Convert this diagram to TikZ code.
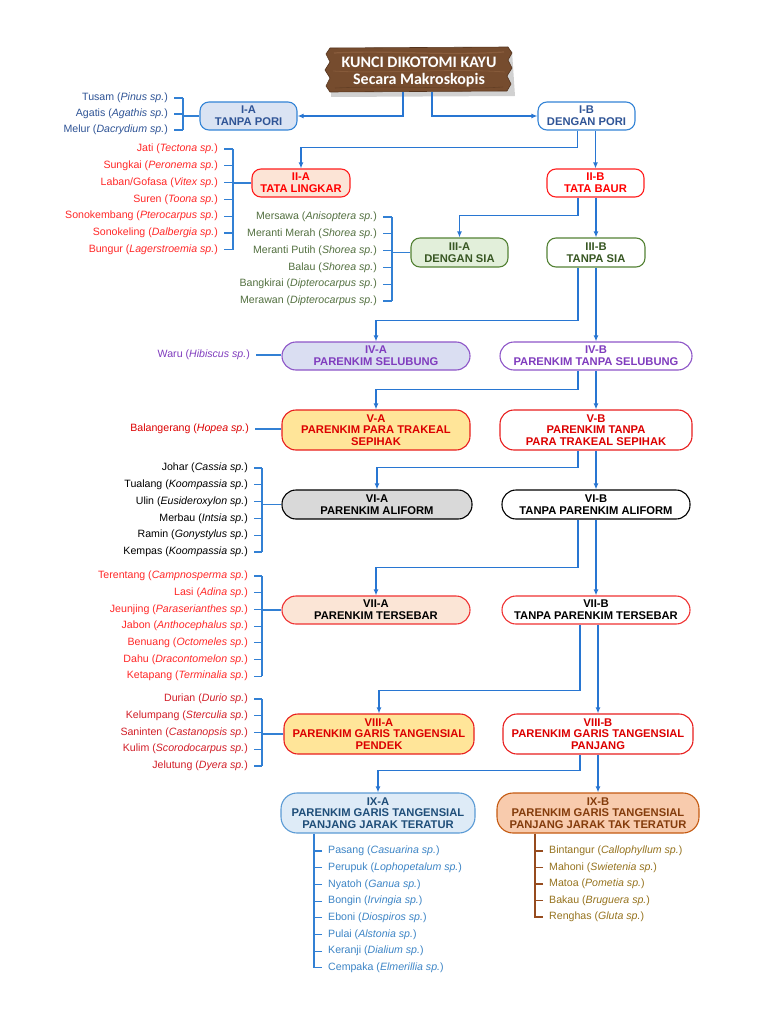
\documentclass[tikz,border=0pt]{standalone}
\usepackage{fontspec}
\setmainfont{Liberation Sans}
\newfontfamily\signfont{Carlito}
\usetikzlibrary{arrows.meta}

\definecolor{linkblue}{RGB}{40,118,210}
\definecolor{brkblue}{RGB}{50,128,212}
\definecolor{wood}{RGB}{118,76,46}
\definecolor{woodlight}{RGB}{150,104,70}
\definecolor{wooddark}{RGB}{84,52,30}
\definecolor{bdI}{RGB}{52,132,214}    \definecolor{txI}{RGB}{47,84,150}   \definecolor{flI}{RGB}{218,227,243}
\definecolor{bdII}{RGB}{255,30,30}    \definecolor{txII}{RGB}{255,0,0}    \definecolor{flII}{RGB}{252,228,214}
\definecolor{bdIII}{RGB}{84,130,53}   \definecolor{txIII}{RGB}{56,87,35}  \definecolor{flIII}{RGB}{226,239,218}
\definecolor{bdIV}{RGB}{142,86,200}   \definecolor{txIV}{RGB}{128,60,190} \definecolor{flIV}{RGB}{218,222,242}
\definecolor{bdV}{RGB}{232,30,30}     \definecolor{txV}{RGB}{220,0,0}     \definecolor{flV}{RGB}{255,229,153}
\definecolor{flVI}{RGB}{217,217,217}
\definecolor{bdVII}{RGB}{240,50,50}   \definecolor{flVII}{RGB}{251,229,214}
\definecolor{bdIXa}{RGB}{91,155,213}  \definecolor{txIXa}{RGB}{31,78,121} \definecolor{flIXa}{RGB}{222,235,247}
\definecolor{bdIXb}{RGB}{197,90,17}   \definecolor{txIXb}{RGB}{132,60,12} \definecolor{flIXb}{RGB}{248,203,173}
\definecolor{spII}{RGB}{255,40,40}
\definecolor{spIII}{RGB}{83,112,64}
\definecolor{spVIII}{RGB}{210,30,40}
\definecolor{spIXa}{RGB}{61,133,198}
\definecolor{spIXb}{RGB}{150,115,30}
\definecolor{lnIXb}{RGB}{150,75,30}

\begin{document}
\begin{tikzpicture}[x=1pt,y=-1pt,
    link/.style={draw=linkblue, line width=1.2pt, -{Latex[length=6pt,width=5pt]}},
    brk/.style={draw=brkblue, line width=1.1pt},
    box/.style={draw, line width=1.1pt, align=center, inner sep=0pt,
      font=\bfseries\fontsize{11.2}{11.8}\selectfont},
    sp/.style={font=\fontsize{10.6}{12}\selectfont, inner sep=0pt}]
    \useasboundingbox[fill=white] (0,0) rectangle (768,1024);

    % wooden sign
    \fill[black!18] (331,52) -- (512,51) -- (515,96) -- (331,97) -- cycle;
    \filldraw[fill=wood, draw=wooddark, line width=0.6pt] (330,48) -- (508,47) -- (512,53) -- (508,60) -- (512,68)
        -- (507,76) -- (511,84) -- (507,91) -- (330,92) -- (326,86) -- (330,78) -- (325,70) -- (330,62) -- (326,54) -- cycle;
    \draw[woodlight, line width=1.2pt, opacity=.6] (334,53) .. controls (390,50) and (440,56) .. (504,52);
    \draw[woodlight, line width=0.8pt, opacity=.5] (333,71) .. controls (380,74) and (450,68) .. (505,72);
    \draw[wooddark, line width=0.6pt, opacity=.5] (335,88) .. controls (400,85) and (460,90) .. (503,87);
    \node[inner sep=0pt, minimum width=186pt, minimum height=39pt, align=center, text=white,
        font=\signfont\bfseries\fontsize{16}{17}\selectfont] (title) at (419,72.5)
        {KUNCI DIKOTOMI KAYU\\Secara Makroskopis};

    % boxes
    \node[box, draw=bdI, fill=flI, text=txI, minimum width=97pt, minimum height=28pt, rounded corners=9pt] (ia) at (248.5,116) {I-A\\TANPA PORI};
    \node[box, draw=bdI, fill=white, text=txI, minimum width=97pt, minimum height=28pt, rounded corners=9pt] (ib) at (586.5,116) {I-B\\DENGAN PORI};
    \node[box, draw=bdII, fill=flII, text=txII, minimum width=98pt, minimum height=28pt, rounded corners=9pt] (iia) at (301,183) {II-A\\TATA LINGKAR};
    \node[box, draw=bdII, fill=white, text=txII, minimum width=97pt, minimum height=28pt, rounded corners=9pt] (iib) at (595.5,183) {II-B\\TATA BAUR};
    \node[box, draw=bdIII, fill=flIII, text=txIII, minimum width=97pt, minimum height=29pt, rounded corners=9pt] (iiia) at (459.5,252.5) {III-A\\DENGAN SIA};
    \node[box, draw=bdIII, fill=white, text=txIII, minimum width=98pt, minimum height=29pt, rounded corners=9pt] (iiib) at (596,252.5) {III-B\\TANPA SIA};
    \node[box, draw=bdIV, fill=flIV, text=txIV, minimum width=188pt, minimum height=28pt, rounded corners=14pt] (iva) at (376,356) {IV-A\\PARENKIM SELUBUNG};
    \node[box, draw=bdIV, fill=white, text=txIV, minimum width=192pt, minimum height=28pt, rounded corners=14pt] (ivb) at (596,356) {IV-B\\PARENKIM TANPA SELUBUNG};
    \node[box, draw=bdV, fill=flV, text=txV, minimum width=188pt, minimum height=40pt, rounded corners=14pt] (va) at (376,430) {V-A\\PARENKIM PARA TRAKEAL\\SEPIHAK};
    \node[box, draw=bdV, fill=white, text=txV, minimum width=192pt, minimum height=40pt, rounded corners=14pt] (vb) at (596,430) {V-B\\PARENKIM TANPA\\PARA TRAKEAL SEPIHAK};
    \node[box, draw=black, fill=flVI, text=black, minimum width=190pt, minimum height=29pt, rounded corners=14pt] (via) at (377,504.5) {VI-A\\PARENKIM ALIFORM};
    \node[box, draw=black, fill=white, text=black, minimum width=188pt, minimum height=29pt, rounded corners=14pt] (vib) at (596,504.5) {VI-B\\TANPA PARENKIM ALIFORM};
    \node[box, draw=bdVII, fill=flVII, text=black, minimum width=188pt, minimum height=28pt, rounded corners=14pt] (viia) at (376,610) {VII-A\\PARENKIM TERSEBAR};
    \node[box, draw=bdVII, fill=white, text=black, minimum width=188pt, minimum height=28pt, rounded corners=14pt] (viib) at (596,610) {VII-B\\TANPA PARENKIM TERSEBAR};
    \node[box, draw=bdV, fill=flV, text=txV, minimum width=190pt, minimum height=40pt, rounded corners=14pt] (viiia) at (379,734) {VIII-A\\PARENKIM GARIS TANGENSIAL\\PENDEK};
    \node[box, draw=bdV, fill=white, text=txV, minimum width=190pt, minimum height=40pt, rounded corners=14pt] (viiib) at (598,734) {VIII-B\\PARENKIM GARIS TANGENSIAL\\PANJANG};
    \node[box, draw=bdIXa, fill=flIXa, text=txIXa, minimum width=194pt, minimum height=40pt, rounded corners=16pt] (ixa) at (378,813) {IX-A\\PARENKIM GARIS TANGENSIAL\\PANJANG JARAK TERATUR};
    \node[box, draw=bdIXb, fill=flIXb, text=txIXb, minimum width=202pt, minimum height=40pt, rounded corners=16pt] (ixb) at (598,813) {IX-B\\PARENKIM GARIS TANGENSIAL\\PANJANG JARAK TAK TERATUR};

    % arrows
    \draw[link] (title.south) ++(-16,0) |- (ia.east);
    \draw[link] (title.south) ++(13,0) |- (ib.west);
    \draw[link] (iib.north |- ib.south) ++(-18,0) -- ++(0,17) -| (iia.north);
    \draw[link] (iib.north |- ib.south) -- (iib.north);
    \draw[link] (iiib.north |- iib.south) ++(-18,0) -- ++(0,18) -| (iiia.north);
    \draw[link] (iiib.north |- iib.south) -- (iiib.north);
    \draw[link] (ivb.north |- iiib.south) ++(-18,0) -- ++(0,53) -| (iva.north);
    \draw[link] (ivb.north |- iiib.south) -- (ivb.north);
    \draw[link] (vb.north |- ivb.south) ++(-18,0) -- ++(0,19) -| (va.north);
    \draw[link] (vb.north |- ivb.south) -- (vb.north);
    \draw[link] (vib.north |- vb.south) ++(-18,0) -- ++(0,17) -| (via.north);
    \draw[link] (vib.north |- vb.south) -- (vib.north);
    \draw[link] (viib.north |- vib.south) ++(-18,0) -- ++(0,48) -| (viia.north);
    \draw[link] (viib.north |- vib.south) -- (viib.north);
    \draw[link] (viiib.north |- viib.south) ++(-18,0) -- ++(0,66) -| (viiia.north);
    \draw[link] (viiib.north |- viib.south) -- (viiib.north);
    \draw[link] (ixb.north |- viiib.south) ++(-18,0) -- ++(0,16) -| (ixa.north);
    \draw[link] (ixb.north |- viiib.south) -- (ixb.north);

    % I-A
    \foreach \nm/\la [count=\i] in {Tusam/Pinus, Agatis/Agathis, Melur/Dacrydium}
        \node[sp, text=txI, anchor=east] (ta\i) at (168,{98+16*(\i-1)}) {\nm\ (\textit{\la\ sp.})};
    \coordinate (bta) at ([xshift=15pt]ta1.east);
    \draw[brk] (bta) -- (bta |- ta3.east);
    \foreach \i in {1,...,3} \draw[brk] ([xshift=6pt]ta\i.east) -- (bta |- ta\i.east);
    \draw[brk] (ia.west) -- (ia.west -| bta);

    % II-A
    \foreach \nm/\la [count=\i] in {Jati/Tectona, Sungkai/Peronema, {Laban/Gofasa}/Vitex, Suren/Toona,
        Sonokembang/Pterocarpus, Sonokeling/Dalbergia, Bungur/Lagerstroemia}
        \node[sp, text=spII, anchor=east] (tb\i) at (218,{149+16.8*(\i-1)}) {\nm\ (\textit{\la\ sp.})};
    \coordinate (btb) at ([xshift=15pt]tb1.east);
    \draw[brk] (btb) -- (btb |- tb7.east);
    \foreach \i in {1,...,7} \draw[brk] ([xshift=6pt]tb\i.east) -- (btb |- tb\i.east);
    \draw[brk] (iia.west) -- (iia.west -| btb);

    % III-A
    \foreach \nm/\la [count=\i] in {Mersawa/Anisoptera, Meranti Merah/Shorea, Meranti Putih/Shorea,
        Balau/Shorea, Bangkirai/Dipterocarpus, Merawan/Dipterocarpus}
        \node[sp, text=spIII, anchor=east] (tc\i) at (377,{217+16.8*(\i-1)}) {\nm\ (\textit{\la\ sp.})};
    \coordinate (btc) at ([xshift=15pt]tc1.east);
    \draw[brk] (btc) -- (btc |- tc6.east);
    \foreach \i in {1,...,6} \draw[brk] ([xshift=6pt]tc\i.east) -- (btc |- tc\i.east);
    \draw[brk] (iiia.west) -- (iiia.west -| btc);

    % IV-A, V-A
    \node[sp, text=txIV, anchor=east] (td1) at (250,355) {Waru (\textit{Hibiscus sp.})};
    \draw[brk] ([xshift=6pt]td1.east) -- (iva.west |- td1.east);
    \node[sp, text=txV, anchor=east] (te1) at (249,429) {Balangerang (\textit{Hopea sp.})};
    \draw[brk] ([xshift=6pt]te1.east) -- (va.west |- te1.east);

    % VI-A
    \foreach \nm/\la [count=\i] in {Johar/Cassia, Tualang/Koompassia, Ulin/Eusideroxylon,
        Merbau/Intsia, Ramin/Gonystylus, Kempas/Koompassia}
        \node[sp, text=black, anchor=east] (tf\i) at (248,{468+16.8*(\i-1)}) {\nm\ (\textit{\la\ sp.})};
    \coordinate (btf) at ([xshift=14pt]tf1.east);
    \draw[brk] (btf) -- (btf |- tf6.east);
    \foreach \i in {1,...,6} \draw[brk] ([xshift=6pt]tf\i.east) -- (btf |- tf\i.east);
    \draw[brk] (via.west) -- (via.west -| btf);

    % VII-A
    \foreach \nm/\la [count=\i] in {Terentang/Campnosperma, Lasi/Adina, Jeunjing/Paraserianthes,
        Jabon/Anthocephalus, Benuang/Octomeles, Dahu/Dracontomelon, Ketapang/Terminalia}
        \node[sp, text=spII, anchor=east] (tg\i) at (248,{576+16.7*(\i-1)}) {\nm\ (\textit{\la\ sp.})};
    \coordinate (btg) at ([xshift=14pt]tg1.east);
    \draw[brk] (btg) -- (btg |- tg7.east);
    \foreach \i in {1,...,7} \draw[brk] ([xshift=6pt]tg\i.east) -- (btg |- tg\i.east);
    \draw[brk] (viia.west) -- (viia.west -| btg);

    % VIII-A
    \foreach \nm/\la [count=\i] in {Durian/Durio, Kelumpang/Sterculia, Saninten/Castanopsis,
        Kulim/Scorodocarpus, Jelutung/Dyera}
        \node[sp, text=spVIII, anchor=east] (th\i) at (248,{699+16.75*(\i-1)}) {\nm\ (\textit{\la\ sp.})};
    \coordinate (bth) at ([xshift=14pt]th1.east);
    \draw[brk] (bth) -- (bth |- th5.east);
    \foreach \i in {1,...,5} \draw[brk] ([xshift=6pt]th\i.east) -- (bth |- th\i.east);
    \draw[brk] (viiia.west) -- (viiia.west -| bth);

    % IX-A
    \foreach \nm/\la [count=\i] in {Pasang/Casuarina, Perupuk/Lophopetalum, Nyatoh/Ganua, Bongin/Irvingia,
        Eboni/Diospiros, Pulai/Alstonia, Keranji/Dialium, Cempaka/Elmerillia}
        \node[sp, text=spIXa, anchor=west] (tk\i) at (328,{851+16.7*(\i-1)}) {\nm\ (\textit{\la\ sp.})};
    \draw[brk] (ixa.south) ++(-64,0) |- ([xshift=-6pt]tk8.west);
    \foreach \i in {1,...,7} \draw[brk] ([xshift=-6pt]tk\i.west) -- ++(-8,0);

    % IX-B
    \foreach \nm/\la [count=\i] in {Bintangur/Callophyllum, Mahoni/Swietenia, Matoa/Pometia,
        Bakau/Bruguera, Renghas/Gluta}
        \node[sp, text=spIXb, anchor=west] (tm\i) at (549,{851+16.5*(\i-1)}) {\nm\ (\textit{\la\ sp.})};
    \draw[draw=lnIXb, line width=1.1pt] (ixb.south) ++(-63,0) |- ([xshift=-6pt]tm5.west);
    \foreach \i in {1,...,4} \draw[draw=lnIXb, line width=1.1pt] ([xshift=-6pt]tm\i.west) -- ++(-8,0);
\end{tikzpicture}
\end{document}
